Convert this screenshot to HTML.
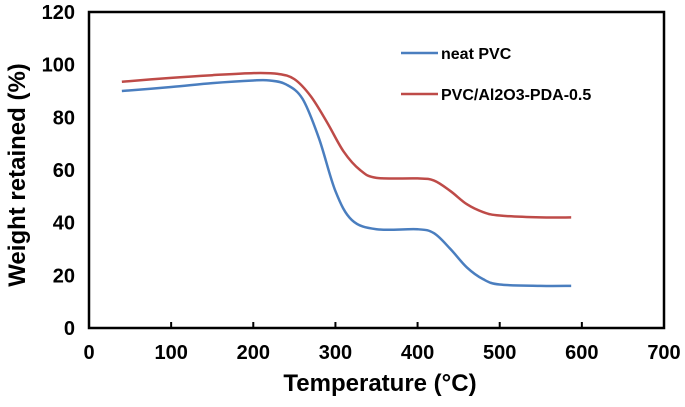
<!DOCTYPE html>
<html><head><meta charset="utf-8"><style>
body{margin:0;background:#fff}
svg text{font-family:"Liberation Sans",Arial,sans-serif;font-weight:bold;fill:#000}
</style></head><body>
<svg id="c" width="685" height="402"></svg>
<script>
const xTicks=[0,100,200,300,400,500,600,700];
const yTicks=[0,20,40,60,80,100,120];
const tempNeat=[40,100,150,200,220,240,260,280,300,320,350,400,420,440,460,480,500,550,587];
const neatPVC=[90,91.5,93,94,94,92.5,87,72,52,41,37.5,37.5,36,30,23,18.5,16.5,16,16];
const tempComp=[40,100,150,200,230,250,270,290,310,330,350,400,420,440,460,480,500,550,587];
const compPVC=[93.5,95,96,96.8,96.5,94.5,88,78,67,60,57,56.8,56,52,47,44,42.7,42,42];
const L=89,R=664,T=12,B=328;
const X=v=>L+(v-0)/700*(R-L), Y=v=>B-(v/120)*(B-T);
const svg=document.getElementById('c'),NS='http://www.w3.org/2000/svg';
function mk(t,a,p){const e=document.createElementNS(NS,t);for(const k in a)e.setAttribute(k,a[k]);(p||svg).appendChild(e);return e;}
const box=mk('rect',{x:L,y:T,width:R-L,height:B-T,fill:'none',stroke:'#000','stroke-width':2.5});


xTicks.forEach(v=>{
 const tk=mk('line',{x1:X(v),x2:X(v),y1:B,y2:B-6,stroke:'#000','stroke-width':2});
 
 
 const t=mk('text',{x:X(v),y:B+31,'text-anchor':'middle','font-size':20});t.textContent=v;
 
 
});
yTicks.forEach(v=>{
 const t=mk('text',{x:L-14,y:Y(v)+7,'text-anchor':'end','font-size':20});t.textContent=v;
 
 
});
function path(xs,ys){
 const p=xs.map((x,i)=>[X(x),Y(ys[i])]);let d='M'+p[0][0]+','+p[0][1];
 for(let i=0;i<p.length-1;i++){const p0=p[i-1]||p[i],p1=p[i],p2=p[i+1],p3=p[i+2]||p2;
  d+=' C'+(p1[0]+(p2[0]-p0[0])/6)+','+(p1[1]+(p2[1]-p0[1])/6)+' '+(p2[0]-(p3[0]-p1[0])/6)+','+(p2[1]-(p3[1]-p1[1])/6)+' '+p2[0]+','+p2[1];}
 return d;}
const s1=mk('path',{d:path(tempNeat,neatPVC),fill:'none',stroke:'#4a7ebf','stroke-width':2.5});


const s2=mk('path',{d:path(tempComp,compPVC),fill:'none',stroke:'#be4b48','stroke-width':2.5});


[['neat PVC','#4a7ebf',53],['PVC/Al2O3-PDA-0.5','#be4b48',94]].forEach(([n,c,y])=>{
 const g=mk('g',{});
 
 
 mk('line',{x1:401,x2:438,y1:y,y2:y,stroke:c,'stroke-width':2.5},g);
 const t=mk('text',{x:441,y:y+6,'font-size':16},g);t.textContent=n;
});
const xt=mk('text',{x:380,y:391,'text-anchor':'middle','font-size':24});xt.textContent='Temperature (°C)';


const yt=mk('text',{x:0,y:0,'text-anchor':'middle','font-size':24,transform:'translate(25,175) rotate(-90)'});yt.textContent='Weight retained (%)';


</script>
</body></html>
